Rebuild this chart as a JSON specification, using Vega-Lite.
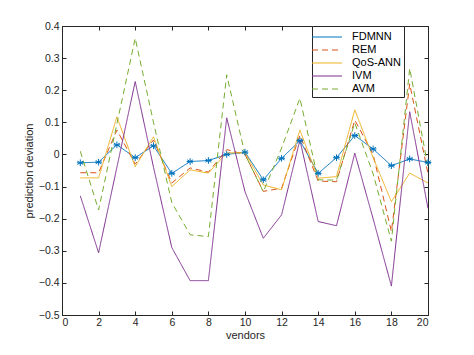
{
  "$schema": "https://vega.github.io/schema/vega-lite/v6.json",
  "width": 366,
  "height": 289,
  "autosize": "none",
  "padding": {"left": 62, "top": 26, "right": 46, "bottom": 40},
  "background": "white",
  "config": {
    "font": "Liberation Sans",
    "view": {"stroke": "#262626", "strokeWidth": 1},
    "axis": {"grid": false, "domainColor": "#262626", "tickColor": "#262626", "labelColor": "#262626", "titleColor": "#262626", "labelFontSize": 10.5, "titleFontSize": 11, "titleFontWeight": "normal", "tickSize": -4, "domainWidth": 1}
  },
  "datasets": {
    "d": [
      {"vendor": 1, "method": "FDMNN", "value": -0.026}, {"vendor": 2, "method": "FDMNN", "value": -0.024}, {"vendor": 3, "method": "FDMNN", "value": 0.03}, {"vendor": 4, "method": "FDMNN", "value": -0.01}, {"vendor": 5, "method": "FDMNN", "value": 0.027}, {"vendor": 6, "method": "FDMNN", "value": -0.059}, {"vendor": 7, "method": "FDMNN", "value": -0.022}, {"vendor": 8, "method": "FDMNN", "value": -0.019}, {"vendor": 9, "method": "FDMNN", "value": 0.0}, {"vendor": 10, "method": "FDMNN", "value": 0.007}, {"vendor": 11, "method": "FDMNN", "value": -0.079}, {"vendor": 12, "method": "FDMNN", "value": -0.012}, {"vendor": 13, "method": "FDMNN", "value": 0.043}, {"vendor": 14, "method": "FDMNN", "value": -0.059}, {"vendor": 15, "method": "FDMNN", "value": -0.01}, {"vendor": 16, "method": "FDMNN", "value": 0.059}, {"vendor": 17, "method": "FDMNN", "value": 0.017}, {"vendor": 18, "method": "FDMNN", "value": -0.035}, {"vendor": 19, "method": "FDMNN", "value": -0.014}, {"vendor": 20, "method": "FDMNN", "value": -0.025},
      {"vendor": 1, "method": "REM", "value": -0.057}, {"vendor": 2, "method": "REM", "value": -0.057}, {"vendor": 3, "method": "REM", "value": 0.076}, {"vendor": 4, "method": "REM", "value": -0.03}, {"vendor": 5, "method": "REM", "value": 0.045}, {"vendor": 6, "method": "REM", "value": -0.089}, {"vendor": 7, "method": "REM", "value": -0.042}, {"vendor": 8, "method": "REM", "value": -0.055}, {"vendor": 9, "method": "REM", "value": 0.015}, {"vendor": 10, "method": "REM", "value": 0.0}, {"vendor": 11, "method": "REM", "value": -0.115}, {"vendor": 12, "method": "REM", "value": -0.105}, {"vendor": 13, "method": "REM", "value": 0.06}, {"vendor": 14, "method": "REM", "value": -0.083}, {"vendor": 15, "method": "REM", "value": -0.085}, {"vendor": 16, "method": "REM", "value": 0.107}, {"vendor": 17, "method": "REM", "value": 0.0}, {"vendor": 18, "method": "REM", "value": -0.24}, {"vendor": 19, "method": "REM", "value": 0.22}, {"vendor": 20, "method": "REM", "value": -0.06},
      {"vendor": 1, "method": "QoS-ANN", "value": -0.073}, {"vendor": 2, "method": "QoS-ANN", "value": -0.073}, {"vendor": 3, "method": "QoS-ANN", "value": 0.117}, {"vendor": 4, "method": "QoS-ANN", "value": -0.038}, {"vendor": 5, "method": "QoS-ANN", "value": 0.055}, {"vendor": 6, "method": "QoS-ANN", "value": -0.1}, {"vendor": 7, "method": "QoS-ANN", "value": -0.048}, {"vendor": 8, "method": "QoS-ANN", "value": -0.058}, {"vendor": 9, "method": "QoS-ANN", "value": 0.005}, {"vendor": 10, "method": "QoS-ANN", "value": 0.005}, {"vendor": 11, "method": "QoS-ANN", "value": -0.095}, {"vendor": 12, "method": "QoS-ANN", "value": -0.11}, {"vendor": 13, "method": "QoS-ANN", "value": 0.076}, {"vendor": 14, "method": "QoS-ANN", "value": -0.074}, {"vendor": 15, "method": "QoS-ANN", "value": -0.069}, {"vendor": 16, "method": "QoS-ANN", "value": 0.139}, {"vendor": 17, "method": "QoS-ANN", "value": -0.01}, {"vendor": 18, "method": "QoS-ANN", "value": -0.147}, {"vendor": 19, "method": "QoS-ANN", "value": -0.058}, {"vendor": 20, "method": "QoS-ANN", "value": -0.089},
      {"vendor": 1, "method": "IVM", "value": -0.129}, {"vendor": 2, "method": "IVM", "value": -0.306}, {"vendor": 3, "method": "IVM", "value": -0.04}, {"vendor": 4, "method": "IVM", "value": 0.227}, {"vendor": 5, "method": "IVM", "value": -0.04}, {"vendor": 6, "method": "IVM", "value": -0.29}, {"vendor": 7, "method": "IVM", "value": -0.393}, {"vendor": 8, "method": "IVM", "value": -0.393}, {"vendor": 9, "method": "IVM", "value": 0.114}, {"vendor": 10, "method": "IVM", "value": -0.116}, {"vendor": 11, "method": "IVM", "value": -0.261}, {"vendor": 12, "method": "IVM", "value": -0.188}, {"vendor": 13, "method": "IVM", "value": 0.045}, {"vendor": 14, "method": "IVM", "value": -0.209}, {"vendor": 15, "method": "IVM", "value": -0.222}, {"vendor": 16, "method": "IVM", "value": 0.004}, {"vendor": 17, "method": "IVM", "value": -0.2}, {"vendor": 18, "method": "IVM", "value": -0.41}, {"vendor": 19, "method": "IVM", "value": 0.133}, {"vendor": 20, "method": "IVM", "value": -0.168},
      {"vendor": 1, "method": "AVM", "value": 0.01}, {"vendor": 2, "method": "AVM", "value": -0.173}, {"vendor": 3, "method": "AVM", "value": 0.095}, {"vendor": 4, "method": "AVM", "value": 0.362}, {"vendor": 5, "method": "AVM", "value": 0.1}, {"vendor": 6, "method": "AVM", "value": -0.15}, {"vendor": 7, "method": "AVM", "value": -0.25}, {"vendor": 8, "method": "AVM", "value": -0.256}, {"vendor": 9, "method": "AVM", "value": 0.248}, {"vendor": 10, "method": "AVM", "value": 0.0}, {"vendor": 11, "method": "AVM", "value": -0.116}, {"vendor": 12, "method": "AVM", "value": 0.02}, {"vendor": 13, "method": "AVM", "value": 0.175}, {"vendor": 14, "method": "AVM", "value": -0.079}, {"vendor": 15, "method": "AVM", "value": -0.08}, {"vendor": 16, "method": "AVM", "value": 0.098}, {"vendor": 17, "method": "AVM", "value": -0.06}, {"vendor": 18, "method": "AVM", "value": -0.27}, {"vendor": 19, "method": "AVM", "value": 0.268}, {"vendor": 20, "method": "AVM", "value": -0.04}
    ]
  },
  "data": {"name": "d"},
  "layer": [
    {
      "mark": {"type": "line", "strokeWidth": 1},
      "encoding": {
        "x": {"field": "vendor", "type": "quantitative", "scale": {"domain": [0, 20], "nice": false}, "axis": {"title": "vendors", "values": [0, 2, 4, 6, 8, 10, 12, 14, 16, 18, 20], "labelPadding": 6, "titlePadding": 2}},
        "y": {"field": "value", "type": "quantitative", "scale": {"domain": [-0.5, 0.4], "nice": false}, "axis": {"title": "prediction deviation", "values": [-0.5, -0.4, -0.3, -0.2, -0.1, 0, 0.1, 0.2, 0.3, 0.4], "format": "~g", "labelPadding": 7, "titlePadding": 4}},
        "color": {"field": "method", "type": "nominal", "scale": {"domain": ["FDMNN", "REM", "QoS-ANN", "IVM", "AVM"], "range": ["#0072BD", "#D95319", "#EDB120", "#7E2F8E", "#77AC30"]},
          "legend": {"title": null, "orient": "none", "legendX": 250, "legendY": 0, "symbolType": "M-2,0L2,0", "symbolSize": 225, "symbolStrokeWidth": 1, "symbolOffset": 4, "labelOffset": 17, "labelFontSize": 11, "labelColor": "#000000", "rowPadding": 0, "padding": 3, "strokeColor": "#262626", "fillColor": "white", "labelLimit": 60}},
        "strokeDash": {"field": "method", "type": "nominal", "scale": {"domain": ["FDMNN", "REM", "QoS-ANN", "IVM", "AVM"], "range": [[1, 0], [6, 4], [1, 0], [1, 0], [6, 4]]}}
      }
    },
    {
      "transform": [{"filter": "datum.method === 'FDMNN'"}],
      "mark": {"type": "point", "shape": "M0,-1L0,1M-0.87,-0.5L0.87,0.5M-0.87,0.5L0.87,-0.5M-1,0L1,0", "filled": false, "size": 45, "strokeWidth": 1, "color": "#0072BD", "opacity": 1},
      "encoding": {
        "x": {"field": "vendor", "type": "quantitative", "axis": {"orient": "top", "labels": false, "title": null, "values": [0, 2, 4, 6, 8, 10, 12, 14, 16, 18, 20]}},
        "y": {"field": "value", "type": "quantitative", "axis": {"orient": "right", "labels": false, "title": null, "values": [-0.5, -0.4, -0.3, -0.2, -0.1, 0, 0.1, 0.2, 0.3, 0.4]}}
      }
    }
  ],
  "resolve": {"axis": {"x": "independent", "y": "independent"}}
}
